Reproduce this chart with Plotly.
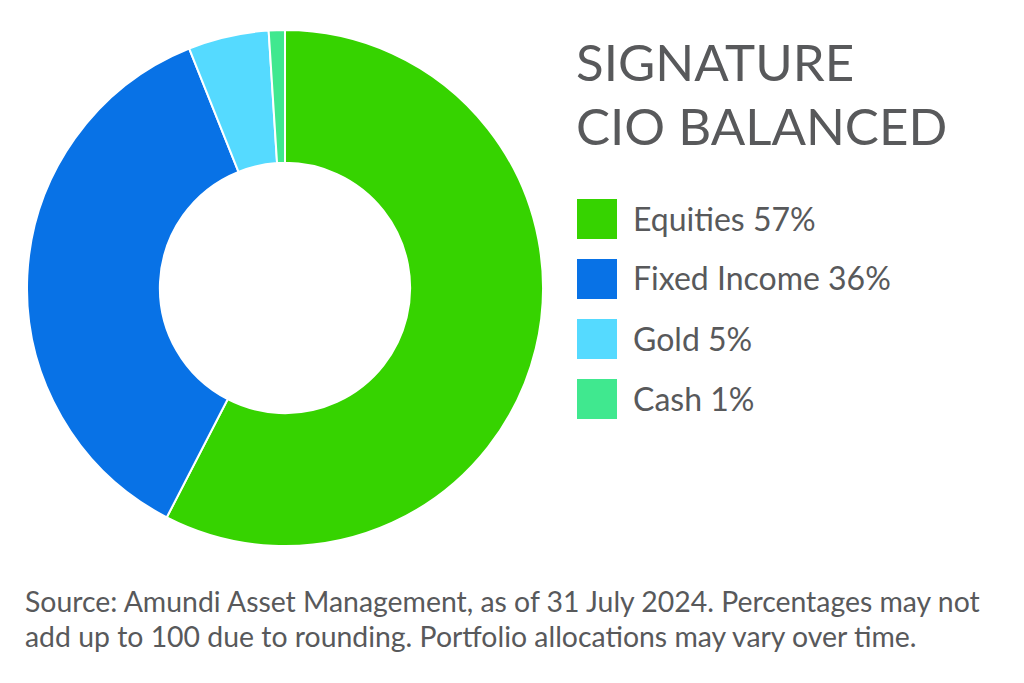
import plotly.graph_objects as go

categories = ["Equities", "Fixed Income", "Gold", "Cash"]
values = [57, 36, 5, 1]
colors = ["#36D300", "#0872E6", "#55DAFF", "#40E88F"]
title_lines = ["SIGNATURE", "CIO BALANCED"]
source_lines = [
    "Source: Amundi Asset Management, as of 31 July 2024. Percentages may not",
    "add up to 100 due to rounding. Portfolio allocations may vary over time.",
]

W, H = 1024, 683
TXT = "#58595B"
FONT = "Lato"

fig = go.Figure()
fig.add_trace(go.Pie(
    labels=categories, values=values, hole=0.485, sort=False,
    direction="clockwise", rotation=0,
    marker=dict(colors=colors, line=dict(color="white", width=2)),
    textinfo="none", hoverinfo="label+percent", showlegend=False,
    domain=dict(x=[27 / W, 543 / W], y=[(H - 546) / H, (H - 30) / H]),
))

def px(x):
    return x / W

def py(y):
    return 1 - y / H

annotations = []
for i, t in enumerate(title_lines):
    annotations.append(dict(text=t, x=px(574), y=py(62 + i * 64), xref="paper", yref="paper",
                            xanchor="left", yanchor="middle", showarrow=False,
                            font=dict(family=FONT, size=51, color=TXT)))
shapes = []
for i, (c, v, col) in enumerate(zip(categories, values, colors)):
    top = 199 + i * 60
    shapes.append(dict(type="rect", xref="paper", yref="paper",
                       x0=px(577), x1=px(617), y0=py(top + 40), y1=py(top),
                       fillcolor=col, line=dict(width=0)))
    annotations.append(dict(text=f"{c} {v}%", x=px(631), y=py(top + 19), xref="paper", yref="paper",
                            xanchor="left", yanchor="middle", showarrow=False,
                            font=dict(family=FONT, size=32, color=TXT)))
for i, t in enumerate(source_lines):
    annotations.append(dict(text=t, x=px(23), y=py(601 + i * 35), xref="paper", yref="paper",
                            xanchor="left", yanchor="middle", showarrow=False,
                            font=dict(family=FONT, size=28.4, color=TXT)))

fig.update_layout(width=W, height=H, margin=dict(l=0, r=0, t=0, b=0),
                  paper_bgcolor="white", plot_bgcolor="white",
                  annotations=annotations, shapes=shapes)
fig.write_html("out.html")
